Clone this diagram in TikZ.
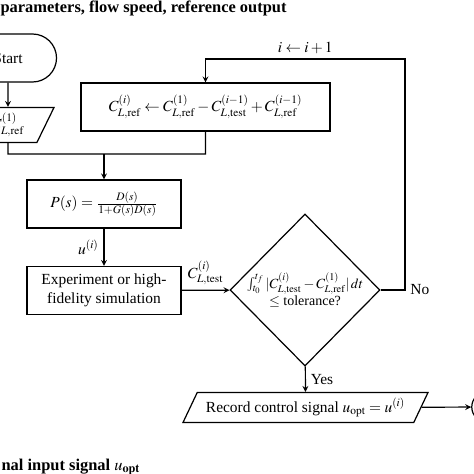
\documentclass[tikz,border=0pt]{standalone}
\usepackage{mathptmx}
\usepackage{fontspec}
\setmainfont{Liberation Serif}
\usetikzlibrary{shapes.geometric,shapes.misc}
\begin{document}
\begin{tikzpicture}[x=0.7pt, y=-0.7pt, >=stealth, line width=0.85pt,
    font=\fontsize{10.8}{13}\selectfont,
    block/.style={draw, minimum width=154*0.7pt, minimum height=48*0.7pt, align=center, inner sep=2pt},
    io/.style={draw, trapezium, trapezium left angle=60, trapezium right angle=120,
        trapezium stretches body, inner sep=2pt},
    heading/.style={anchor=base west, inner sep=0pt, font=\fontsize{11.5}{14}\selectfont\bfseries}]
    \useasboundingbox (0,0) rectangle (474,474);
    \clip (0,0) rectangle (474,474);

    \node[heading] (title) at (0,12) {parameters, flow speed, reference output};
    \node[heading] (result) at (1,470) {nal input signal $u_{\mathbf{opt}}$};

    \node[draw, rounded rectangle, rounded rectangle left arc=none,
        minimum width=106*0.7pt, minimum height=48*0.7pt] (start) at (8,58) {Start};
    \node[io, minimum width=92*0.7pt, minimum height=35*0.7pt] (cref) at (8,125)
        {$C^{(1)}_{L,\mathrm{ref}}$};
    \node[block, minimum width=249*0.7pt] (update) at (205.5,107)
        {$C^{(i)}_{L,\mathrm{ref}} \leftarrow C^{(1)}_{L,\mathrm{ref}} - C^{(i-1)}_{L,\mathrm{test}} + C^{(i-1)}_{L,\mathrm{ref}}$};
    \node[block] (plant) at (104,204) {$P(s) = \frac{D(s)}{1+G(s)D(s)}$};
    \node[block] (exper) at (104,290.5) {Experiment or high-\\fidelity simulation};
    \node[draw, diamond, aspect=1, inner sep=-6pt, align=center,
        font=\fontsize{9.8}{12}\selectfont,
        minimum width=150*0.7pt, minimum height=152*0.7pt] (check) at (305,290)
        {$\int_{t_0}^{t_f} |C^{(i)}_{L,\mathrm{test}} - C^{(1)}_{L,\mathrm{ref}}|\,dt$\\$\leq$ tolerance?};
    \node[io, minimum width=245*0.7pt, minimum height=30*0.7pt] (record) at (305.5,407.5)
        {Record control signal $u_{\mathrm{opt}} = u^{(i)}$};
    \node[draw, rounded rectangle, rounded rectangle right arc=none,
        minimum width=60*0.7pt, minimum height=30*0.7pt] (stop) at (497,407) {};

    % connectors
    \coordinate (mergeL) at (8,154);
    \coordinate (mergeR) at (205.5,154);
    \coordinate (loop) at (405,59);
    \draw[->] (start) -- (cref);
    \draw (cref.south) -- (mergeL) -- (mergeR) -- (update.south);
    \draw[->] (plant.north |- mergeL) -- (plant.north);
    \draw[->] (plant) -- node[left] {$u^{(i)}$} (exper);
    \draw[->] (exper) -- node[above] {$C^{(i)}_{L,\mathrm{test}}$} (check);
    \draw[->] (check) -- node[right] {Yes} (record);
    \draw[->] (record) -- (stop);
    \draw[->] (check.east) -| node[pos=0.5, right] {No} (loop)
        -- node[above] {$i \leftarrow i+1$} (update.north |- loop) -- (update.north);
\end{tikzpicture}
\end{document}
